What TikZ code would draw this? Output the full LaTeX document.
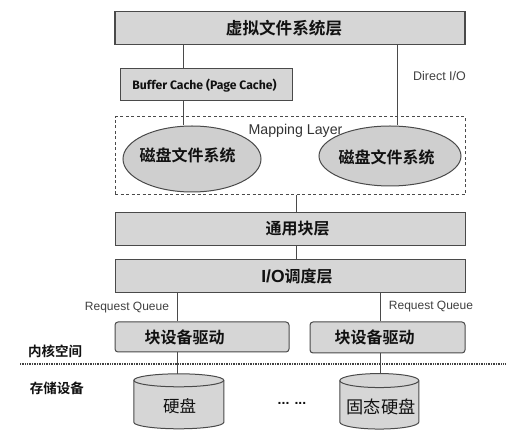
\documentclass[tikz,border=0pt]{standalone}
\usepackage{fontspec}
\setmainfont{Liberation Sans}
\newfontfamily\cjk{Noto Sans CJK SC}
\newfontfamily\cjkb{Noto Sans CJK SC Bold}
\newfontfamily\bufffont{Fira Sans}
\usetikzlibrary{shapes.geometric}
\definecolor{boxfill}{HTML}{D6D6D6}
\definecolor{ellfill}{HTML}{CFCFCF}
\definecolor{edge}{HTML}{4A4A4A}
\definecolor{inktxt}{HTML}{111111}
\tikzset{
  x=1pt,y=-1pt,
  layerbox/.style={draw=edge,line width=1.3pt,fill=boxfill,inner sep=0pt,text=inktxt,font=\cjkb\fontsize{16}{16}\selectfont},
  drvbox/.style={layerbox,line width=1pt,rounded corners=3pt},
  fsell/.style={ellipse,draw=edge,line width=1pt,fill=ellfill,inner sep=0pt,text=inktxt,font=\cjkb\fontsize{16}{16}\selectfont},
  diskframe/.style={inner sep=0pt},
  diskline/.style={draw=edge,line width=1pt,fill=boxfill},
  disktext/.style={inner sep=0pt,text=inktxt,font=\cjk\fontsize{16.5}{17}\selectfont},
  link/.style={draw=edge,line width=1pt},
  note/.style={inner sep=0pt,text=black!75,font=\fontsize{12}{12}\selectfont},
  sidelab/.style={inner sep=0pt,text=inktxt,font=\cjkb\fontsize{13.5}{14}\selectfont},
}
% #1 frame node, #2 x radius, #3 y radius (numbers, in pt), #4 body height between cap centres
\newcommand{\diskbody}[4]{%
  \path[diskline] ([yshift=-#3pt]#1.north west) arc[start angle=180,end angle=0,x radius=#2pt,y radius=#3pt]
     -- ++(0,#4) arc[start angle=0,end angle=-180,x radius=#2pt,y radius=#3pt] -- cycle;
  \path[draw=edge,line width=1pt] ([yshift=-#3pt]#1.north west) arc[start angle=180,end angle=360,x radius=#2pt,y radius=#3pt];
}
\begin{document}
\begin{tikzpicture}
\useasboundingbox (0,0) rectangle (528,438);
\node[layerbox,minimum width=350pt,minimum height=33pt,font=\cjkb\fontsize{16.6}{17}\selectfont] (vfs) at (290,28) {虚拟文件系统层\hspace{12pt}\mbox{}};
\node[layerbox,line width=1pt,minimum width=172pt,minimum height=32pt] (buf) at (206,85) {};
\node[inner sep=0pt,text=inktxt,font=\bufffont\bfseries\fontsize{12.2}{13}\selectfont] (buft) at (204.5,86) {Buffer Cache (Page Cache)};
\node[draw=edge,line width=1pt,dash pattern=on 3pt off 2.5pt,minimum width=350pt,minimum height=78pt,inner sep=0pt] (map) at (290,156) {};
\node[fsell,minimum width=138pt,minimum height=66pt] (fs1) at (192,159) {};
\node[inner sep=0pt,text=inktxt,font=\cjkb\fontsize{16}{16}\selectfont] (fs1t) at (187.5,155) {磁盘文件系统};
\node[fsell,minimum width=142pt,minimum height=60pt] (fs2) at (390,156) {};
\node[inner sep=0pt,text=inktxt,font=\cjkb\fontsize{16}{16}\selectfont] (fs2t) at (386.5,157) {磁盘文件系统};
\node[inner sep=0pt,text=black!80,font=\fontsize{14.2}{15}\selectfont] (mapl) at (295.5,131) {Mapping Layer};
\node[note,font=\fontsize{12.5}{13}\selectfont] (dio) at (439.5,76) {Direct I/O};
\node[layerbox,line width=1pt,minimum width=350pt,minimum height=33pt] (gen) at (290,229) {\hspace{15pt}通用块层};
\node[layerbox,line width=1pt,minimum width=350pt,minimum height=33pt] (ios) at (290,276) {\hspace{14pt}{\fontspec{Liberation Sans Bold}\fontsize{17.5}{18}\selectfont I/O}调度层};
\node[note] (rq1) at (127,308) {Request Queue};
\node[note] (rq2) at (431,306.5) {Request Queue};
\node[drvbox,minimum width=174pt,minimum height=30pt] (drv1) at (202,337) {块设备驱动\hspace{35pt}\mbox{}};
\node[drvbox,minimum width=155pt,minimum height=31pt] (drv2) at (387.5,337.5) {块设备驱动\hspace{26pt}\mbox{}};
\node[sidelab] (kern) at (55,351) {内核空间};
\node[sidelab] (stor) at (57,388) {存储设备};
\coordinate (sepL) at (20,364);
\coordinate (sepR) at (505,364);
\draw[line width=1.2pt,black!75,dash pattern=on 1pt off 0.7pt] (sepL) -- (sepR);
\node[diskframe,minimum width=90pt,minimum height=55pt] (hdd) at (179,401.5) {};
\diskbody{hdd}{45}{6.5}{42}
\node[disktext] (hddt) at (179.5,406.5) {硬盘};
\node[diskframe,minimum width=79pt,minimum height=55.5pt] (ssd) at (379.5,401.5) {};
\diskbody{ssd}{39.5}{7}{41.5}
\node[disktext,font=\cjk\fontsize{17.2}{18}\selectfont] (ssdt) at (381,406.5) {固态硬盘};
\node[inner sep=0pt,text=inktxt,font=\bfseries\fontsize{14}{14}\selectfont] (dots) at (292,403) {... ...};
\coordinate (xa) at (183,0);
\coordinate (xb) at (397,0);
\coordinate (xc) at (296,0);
\coordinate (xd) at (177,0);
\coordinate (xe) at (380,0);
\draw[link] (vfs.south -| xa) -- (buf.north -| xa);
\draw[link] (buf.south -| xa) -- (fs1.north -| xa);
\draw[link] (vfs.south -| xb) -- (fs2.north -| xb);
\draw[link] (map.south -| xc) -- (gen.north -| xc);
\draw[link] (gen.south -| xc) -- (ios.north -| xc);
\draw[link] (ios.south -| xd) -- (drv1.north -| xd);
\draw[link] (ios.south -| xe) -- (drv2.north -| xe);
\draw[link] (drv1.south -| xd) -- (hdd.north -| xd);
\draw[link] (drv2.south -| xe) -- (ssd.north -| xe);
\end{tikzpicture}
\end{document}
